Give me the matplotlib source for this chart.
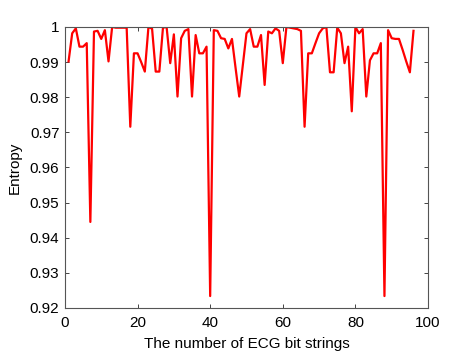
import matplotlib
matplotlib.use("Agg")
import matplotlib.pyplot as plt

x_values = list(range(1, 97))
entropy = [
    0.9902, 0.9982, 0.9996, 0.9944, 0.9944, 0.9954, 0.9445, 0.9987, 0.9989, 0.9966,  # 1-10
    0.9991, 0.9902, 1.0000, 0.9998, 0.9998, 0.9998, 0.9998, 0.9716, 0.9925, 0.9925,  # 11-20
    0.9900, 0.9873, 1.0000, 0.9995, 0.9873, 0.9873, 0.9998, 1.0000, 0.9897, 0.9979,  # 21-30
    0.9802, 0.9968, 0.9989, 0.9994, 0.9802, 0.9977, 0.9925, 0.9925, 0.9944, 0.9234,  # 31-40
    0.9991, 0.9989, 0.9968, 0.9966, 0.9939, 0.9966, 0.9883, 0.9802, 0.9892, 0.9982,  # 41-50
    0.9994, 0.9944, 0.9944, 0.9977, 0.9835, 0.9987, 0.9982, 0.9996, 0.9989, 0.9897,  # 51-60
    1.0000, 0.9998, 0.9996, 0.9994, 0.9989, 0.9716, 0.9925, 0.9925, 0.9954, 0.9982,  # 61-70
    0.9996, 1.0000, 0.9871, 0.9871, 0.9998, 0.9982, 0.9897, 0.9944, 0.9760, 1.0000,  # 71-80
    0.9982, 0.9994, 0.9802, 0.9905, 0.9925, 0.9925, 0.9954, 0.9234, 0.9991, 0.9968,  # 81-90
    0.9966, 0.9966, 0.9935, 0.9902, 0.9871, 0.9989,                                  # 91-96
]
x_ticks = [0, 20, 40, 60, 80, 100]
y_ticks = [0.92, 0.93, 0.94, 0.95, 0.96, 0.97, 0.98, 0.99, 1.0]
y_tick_labels = ["0.92", "0.93", "0.94", "0.95", "0.96", "0.97", "0.98", "0.99", "1"]

plt.rcParams['font.family'] = ['Liberation Sans', 'DejaVu Sans']

fig = plt.figure(figsize=(4.74, 3.55), dpi=100)
ax = fig.add_axes([0.137, 0.1324, 0.766, 0.7916])
ax.plot(x_values, entropy, color='#ff0000', linewidth=1.6)
ax.set_xlim(0, 100)
ax.set_ylim(0.92, 1.0)
ax.set_xticks(x_ticks)
ax.set_yticks(y_ticks)
ax.set_yticklabels(y_tick_labels)
ax.tick_params(direction='in', top=True, right=True, length=3, width=0.7,
               labelsize=11, colors='#444444', labelcolor='black')
ax.tick_params(axis='x', pad=6)
ax.tick_params(axis='y', pad=4)
for s in ax.spines.values():
    s.set_color('#555555')
    s.set_linewidth(0.8)
ax.set_xlabel("The number of ECG bit strings", fontsize=11, labelpad=5)
ax.set_ylabel("Entropy", fontsize=11, labelpad=6)
fig.savefig("out.png", dpi=100)
